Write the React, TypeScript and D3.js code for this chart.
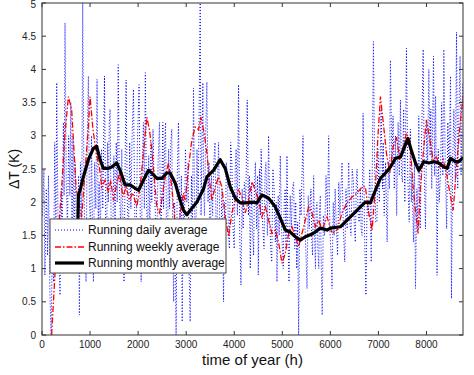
import React from "react";
import * as d3 from "d3";

const W = 474;
const H = 375;
const M = { left: 42, right: 11, top: 3, bottom: 40 };

const xTicks = [0, 1000, 2000, 3000, 4000, 5000, 6000, 7000, 8000];
const yTicks = [0, 0.5, 1, 1.5, 2, 2.5, 3, 3.5, 4, 4.5, 5];

const legendLabels = [
  "Running daily average",
  "Running weekly average",
  "Running monthly average",
];

// Running daily average: [hour, ΔT]
const dailySeries: [number, number][] = [
  [10, 1.8], [40, 2.5], [60, 0.9], [90, 2.2], [115, 1.2], [135, 2.4], [165, 0.6], [190, 0.0], [215, 1.4], [240, 0.8],
  [265, 2.9], [290, 1.6], [306, 3.8], [330, 1.9], [350, 1.2], [375, 0.6], [400, 2.2], [420, 1.4], [445, 3.2], [460, 2.1],
  [479, 4.7], [505, 2.3], [530, 1.6], [555, 3.0], [580, 2.1], [600, 3.5], [625, 1.5], [645, 3.0], [665, 1.2], [690, 2.6],
  [715, 1.6], [740, 1.0], [760, 2.4], [778, 0.3], [800, 2.6], [825, 1.5], [847, 5.0], [870, 2.6], [890, 1.4], [917, 0.8],
  [940, 2.9], [965, 3.9], [985, 2.1], [1010, 1.5], [1030, 3.0], [1050, 1.7], [1070, 0.8], [1095, 2.6], [1120, 1.9], [1146, 3.85],
  [1170, 1.6], [1190, 2.3], [1215, 1.5], [1240, 2.8], [1265, 1.9], [1300, 3.9], [1325, 1.7], [1345, 1.3], [1365, 2.9], [1380, 2.0],
  [1400, 3.2], [1417, 3.4], [1440, 1.6], [1470, 1.3], [1495, 2.7], [1520, 1.6], [1545, 2.9], [1565, 2.0], [1586, 4.07], [1610, 2.2],
  [1640, 1.6], [1660, 2.8], [1685, 1.7], [1708, 0.8], [1730, 2.6], [1750, 3.84], [1775, 2.0], [1800, 1.5], [1825, 2.9], [1850, 1.9],
  [1875, 3.0], [1903, 3.7], [1930, 1.8], [1960, 1.4], [1985, 2.9], [2020, 3.77], [2045, 1.8], [2063, 0.8], [2090, 2.7], [2110, 3.2],
  [2130, 1.9], [2150, 3.95], [2175, 2.0], [2200, 1.5], [2220, 2.7], [2245, 1.6], [2265, 2.9], [2285, 2.0], [2310, 3.1], [2333, 2.3],
  [2360, 1.8], [2389, 1.3], [2415, 2.6], [2444, 3.2], [2465, 1.9], [2480, 1.6], [2514, 3.2], [2530, 1.9], [2550, 2.8], [2570, 3.2],
  [2590, 1.6], [2610, 1.2], [2635, 2.8], [2655, 1.9], [2680, 2.9], [2701, 3.1], [2720, 1.4], [2740, 0.5], [2760, 2.0], [2775, 1.2],
  [2790, 0.0], [2815, 2.4], [2840, 3.2], [2860, 1.9], [2880, 1.6], [2900, 2.4], [2917, 0.2], [2940, 2.1], [2960, 1.5], [2985, 2.8],
  [3014, 2.0], [3040, 2.6], [3060, 1.0], [3083, 0.2], [3110, 2.4], [3130, 1.6], [3153, 3.72], [3175, 1.9], [3200, 1.4], [3225, 2.8],
  [3250, 2.0], [3270, 3.4], [3292, 5.0], [3310, 1.8], [3330, 2.9], [3347, 3.8], [3365, 2.2], [3380, 1.8], [3405, 3.0], [3431, 3.81],
  [3455, 2.0], [3475, 2.6], [3500, 1.3], [3525, 2.4], [3550, 1.8], [3575, 2.6], [3600, 2.9], [3620, 1.7], [3640, 1.4], [3660, 2.5],
  [3674, 2.9], [3700, 1.6], [3720, 1.3], [3745, 2.2], [3778, 0.5], [3795, 2.0], [3812, 1.2], [3835, 2.6], [3860, 2.4], [3880, 1.5],
  [3900, 1.3], [3925, 2.9], [3950, 2.6], [3975, 1.6], [4000, 1.3], [4020, 2.5], [4040, 2.8], [4065, 1.8], [4090, 3.77], [4115, 1.5],
  [4140, 0.75], [4165, 2.2], [4185, 1.6], [4210, 2.3], [4240, 2.0], [4270, 3.54], [4295, 1.8], [4315, 2.4], [4333, 1.0], [4360, 2.3],
  [4380, 1.6], [4403, 1.2], [4420, 2.2], [4440, 2.6], [4465, 1.6], [4485, 2.4], [4500, 0.9], [4525, 2.5], [4545, 1.8], [4560, 2.8],
  [4590, 1.7], [4620, 1.3], [4640, 2.4], [4660, 2.6], [4690, 1.5], [4715, 3.0], [4740, 1.7], [4760, 1.3], [4780, 1.1], [4805, 2.5],
  [4830, 2.2], [4855, 1.4], [4875, 2.0], [4889, 0.8], [4915, 2.1], [4935, 1.5], [4958, 2.7], [4985, 1.6], [5020, 1.0], [5040, 2.0],
  [5060, 2.2], [5078, 1.3], [5097, 2.7], [5120, 1.4], [5140, 0.8], [5165, 2.1], [5190, 1.6], [5210, 2.2], [5236, 2.3], [5260, 1.3],
  [5280, 2.0], [5300, 1.0], [5320, 1.7], [5340, 0.0], [5365, 2.2], [5390, 1.8], [5410, 2.4], [5431, 3.0], [5455, 1.8], [5480, 1.5],
  [5514, 0.7], [5540, 2.1], [5560, 1.6], [5580, 2.0], [5597, 2.2], [5615, 1.4], [5630, 1.2], [5653, 2.4], [5670, 1.5], [5690, 1.0],
  [5705, 1.9], [5722, 2.0], [5740, 1.3], [5760, 1.0], [5775, 1.9], [5792, 2.1], [5810, 1.1], [5830, 0.3], [5855, 1.8], [5880, 1.5],
  [5910, 2.4], [5940, 1.8], [5965, 3.0], [5990, 1.6], [6015, 1.2], [6035, 0.7], [6060, 2.0], [6080, 1.5], [6100, 2.2], [6125, 1.6],
  [6150, 1.2], [6175, 2.3], [6200, 1.8], [6220, 2.2], [6243, 2.6], [6270, 1.6], [6300, 1.1], [6325, 2.2], [6350, 1.6], [6382, 2.6],
  [6405, 1.7], [6430, 1.5], [6455, 2.5], [6480, 2.3], [6500, 1.6], [6520, 1.4], [6540, 2.3], [6556, 2.5], [6580, 1.8], [6600, 1.7],
  [6625, 2.2], [6640, 1.6], [6660, 1.5], [6681, 3.34], [6710, 1.6], [6740, 0.6], [6765, 2.0], [6790, 1.8], [6820, 2.5], [6850, 1.1],
  [6875, 2.7], [6896, 4.42], [6920, 2.6], [6945, 1.7], [6970, 1.7], [6990, 2.8], [7020, 2.0], [7056, 3.4], [7085, 2.2], [7100, 2.9],
  [7120, 1.8], [7150, 2.6], [7181, 1.4], [7210, 2.6], [7230, 2.2], [7250, 4.14], [7280, 2.6], [7305, 3.3], [7330, 2.2], [7355, 3.0],
  [7380, 1.8], [7410, 3.2], [7435, 2.4], [7458, 3.54], [7480, 2.4], [7500, 2.3], [7525, 3.4], [7550, 2.0], [7583, 4.32], [7610, 2.4],
  [7640, 1.7], [7665, 3.1], [7685, 2.0], [7700, 2.4], [7730, 1.4], [7750, 2.6], [7771, 0.7], [7800, 2.2], [7820, 1.6], [7840, 3.3],
  [7860, 2.0], [7870, 1.6], [7900, 3.0], [7931, 4.3], [7955, 2.4], [7980, 1.6], [8005, 3.2], [8025, 2.6], [8049, 4.0], [8075, 2.7],
  [8090, 3.4], [8110, 2.2], [8130, 3.3], [8146, 4.2], [8170, 2.4], [8190, 3.6], [8220, 0.9], [8245, 2.8], [8265, 2.0], [8290, 2.4],
  [8315, 3.5], [8340, 2.4], [8361, 4.3], [8390, 2.6], [8420, 1.6], [8445, 3.2], [8470, 2.4], [8500, 3.9], [8520, 0.55], [8545, 2.6],
  [8570, 3.4], [8600, 2.3], [8625, 4.56], [8650, 2.2], [8675, 3.4], [8700, 4.2], [8720, 2.4], [8745, 3.6], [8760, 3.8],
];

// Running weekly average
const weeklyHours = [
  200, 271, 340, 410, 479, 549, 618, 653, 708, 778, 826, 896, 965, 1000, 1056, 1125, 1194, 1243, 1312,
  1382, 1431, 1486, 1542, 1611, 1681, 1750, 1819, 1889, 1972, 2042, 2111, 2181, 2236, 2285, 2340, 2389,
  2444, 2493, 2562, 2632, 2701, 2750, 2806, 2875, 2944, 2979, 3049, 3118, 3188, 3257, 3306, 3375, 3431,
  3486, 3535, 3604, 3674, 3743, 3812, 3882, 3951, 4021, 4090, 4160, 4229, 4299, 4368, 4437, 4507, 4576,
  4646, 4715, 4785, 4854, 4924, 4993, 5063, 5132, 5201, 5271, 5340, 5410, 5479, 5549, 5618, 5688, 5757,
  5826, 5931, 6035, 6139, 6243, 6347, 6451, 6556, 6660, 6729, 6799, 6868, 6938, 6986, 7042, 7111, 7167,
  7236, 7306, 7375, 7444, 7514, 7583, 7653, 7722, 7792, 7826, 7875, 7944, 8000, 8069, 8139, 8208, 8278,
  8347, 8417, 8486, 8556, 8625, 8694, 8760,
];
const weeklyValues = [
  0.0, 0.93, 1.53, 2.23, 3.04, 3.59, 3.39, 2.94, 2.23, 1.93, 1.78, 2.48, 3.13, 3.59, 3.13, 2.74, 2.53, 2.23, 2.33,
  2.15, 2.33, 2.03, 2.23, 2.44, 2.08, 2.23, 2.03, 2.14, 1.93, 2.23, 2.74, 3.28, 3.09, 2.79, 2.33, 1.93,
  1.84, 2.03, 2.38, 2.59, 2.23, 1.84, 1.23, 1.84, 2.14, 2.03, 2.53, 2.94, 3.13, 3.09, 3.28, 3.04, 2.74,
  2.33, 2.03, 2.23, 2.38, 2.23, 1.78, 1.48, 1.84, 2.03, 2.18, 2.08, 1.84, 2.03, 2.31, 2.18, 2.03, 1.78,
  1.93, 1.73, 1.53, 1.58, 1.39, 1.08, 1.23, 1.53, 1.63, 1.48, 1.33, 1.53, 1.73, 1.93, 1.84, 1.63, 1.73,
  1.58, 1.78, 1.53, 1.58, 1.84, 1.99, 2.08, 2.14, 2.23, 2.23, 1.84, 1.58, 2.23, 2.94, 3.59, 3.13, 2.74,
  2.44, 2.83, 2.98, 2.64, 2.83, 3.04, 2.94, 2.23, 1.73, 1.53, 2.23, 2.83, 3.24, 2.94, 2.64, 2.68, 2.53,
  2.64, 2.44, 2.14, 1.88, 2.53, 3.13, 3.6,
];

// Running monthly average
const monthlyHours = [
  745, 757, 800, 860, 965, 1069, 1139, 1208, 1278, 1382, 1450, 1556, 1625, 1729, 1833, 1938, 2007, 2111,
  2215, 2285, 2389, 2493, 2597, 2667, 2771, 2875, 2944, 3014, 3118, 3222, 3292, 3361, 3431, 3569, 3708,
  3812, 3917, 4021, 4125, 4264, 4368, 4472, 4576, 4715, 4854, 4958, 5063, 5167, 5271, 5375, 5479, 5583,
  5688, 5792, 5931, 6000, 6208, 6417, 6625, 6729, 6833, 6938, 7042, 7146, 7250, 7354, 7458, 7542, 7611,
  7681, 7771, 7840, 7944, 8049, 8153, 8257, 8361, 8431, 8500, 8604, 8674, 8743, 8760,
];
const monthlyValues = [
  1.6, 2.1, 2.2, 2.38, 2.64, 2.81, 2.84, 2.64, 2.51, 2.51, 2.53, 2.59, 2.48, 2.26, 2.26, 2.21, 2.18, 2.33,
  2.48, 2.44, 2.36, 2.36, 2.44, 2.44, 2.29, 2.03, 1.88, 1.81, 1.91, 2.0, 2.1, 2.2, 2.38, 2.48, 2.64,
  2.51, 2.23, 2.06, 1.99, 1.99, 2.0, 1.99, 2.11, 2.06, 1.93, 1.76, 1.58, 1.55, 1.48, 1.43, 1.48, 1.51,
  1.55, 1.61, 1.58, 1.61, 1.63, 1.78, 1.93, 2.0, 1.99, 2.18, 2.36, 2.44, 2.53, 2.66, 2.68, 2.83, 2.96,
  2.79, 2.59, 2.48, 2.61, 2.59, 2.61, 2.59, 2.53, 2.51, 2.66, 2.61, 2.61, 2.66, 2.64,
];

export default function App() {
  const iw = W - M.left - M.right;
  const ih = H - M.top - M.bottom;
  const x = d3.scaleLinear().domain([0, 8760]).range([M.left, M.left + iw]);
  const y = d3.scaleLinear().domain([0, 5]).range([M.top + ih, M.top]);
  const line = d3
    .line<[number, number]>()
    .x((d) => x(d[0]))
    .y((d) => y(d[1]));
  const weekly = weeklyHours.map((h, i) => [h, weeklyValues[i]] as [number, number]);
  const monthly = monthlyHours.map((h, i) => [h, monthlyValues[i]] as [number, number]);
  const font = "Liberation Sans, Arial, Helvetica, sans-serif";
  const x0 = M.left, x1 = M.left + iw, y0 = M.top + ih, y1 = M.top;
  const tl = 4;
  const lg = { x: 50, y: 219, w: 176, h: 54 };
  const rowY = [230, 247, 263];
  return (
    <svg
      width={W}
      height={H}
      style={{ position: "absolute", left: 0, top: 0, background: "#fff" }}
      fontFamily={font}
    >
      <defs>
        <clipPath id="plotclip">
          <rect x={x0} y={y1} width={iw} height={ih} />
        </clipPath>
      </defs>
      <rect x={0} y={0} width={W} height={H} fill="#fff" />
      <g clipPath="url(#plotclip)" fill="none">
        <path d={line(dailySeries) || ""} stroke="#0000ff" strokeWidth={1} strokeDasharray="1,2" />
        <path d={line(weekly) || ""} stroke="#ff0000" strokeWidth={1.3} strokeDasharray="6,2,1.5,2" />
        <path d={line(monthly) || ""} stroke="#000" strokeWidth={3.2} strokeLinejoin="round" />
      </g>
      <rect x={x0} y={y1} width={iw} height={ih} fill="none" stroke="#333" strokeWidth={1} />
      {xTicks.map((t) => (
        <g key={"x" + t}>
          <line x1={x(t)} x2={x(t)} y1={y0} y2={y0 - tl} stroke="#333" />
          <line x1={x(t)} x2={x(t)} y1={y1} y2={y1 + tl} stroke="#333" />
          <text x={x(t)} y={y0 + 13} fontSize={10} textAnchor="middle" fill="#222">
            {t}
          </text>
        </g>
      ))}
      {yTicks.map((t) => (
        <g key={"y" + t}>
          <line x1={x0} x2={x0 + tl} y1={y(t)} y2={y(t)} stroke="#333" />
          <line x1={x1} x2={x1 - tl} y1={y(t)} y2={y(t)} stroke="#333" />
          <text x={x0 - 6} y={y(t) + (t === 5 ? 5 : 3.6)} fontSize={10} textAnchor="end" fill="#222">
            {t}
          </text>
        </g>
      ))}
      <text x={(x0 + x1) / 2} y={365} fontSize={15} textAnchor="middle" fill="#111">
        time of year (h)
      </text>
      <text
        transform={`translate(19,${(y0 + y1) / 2}) rotate(-90)`}
        fontSize={14}
        textAnchor="middle"
        fill="#111"
      >
        ΔT (K)
      </text>
      <rect x={lg.x} y={lg.y} width={lg.w} height={lg.h} fill="#fff" stroke="#444" strokeWidth={1} />
      {legendLabels.map((lab, i) => (
        <g key={lab}>
          <line
            x1={55}
            x2={84}
            y1={rowY[i]}
            y2={rowY[i]}
            stroke={i === 0 ? "#0000ff" : i === 1 ? "#ff0000" : "#000"}
            strokeWidth={i === 0 ? 1 : i === 1 ? 1.3 : 3.2}
            strokeDasharray={i === 0 ? "1,2" : i === 1 ? "6,2,1.5,2" : undefined}
          />
          <text x={88} y={rowY[i] + 4} fontSize={12} fill="#111">
            {lab}
          </text>
        </g>
      ))}
    </svg>
  );
}
